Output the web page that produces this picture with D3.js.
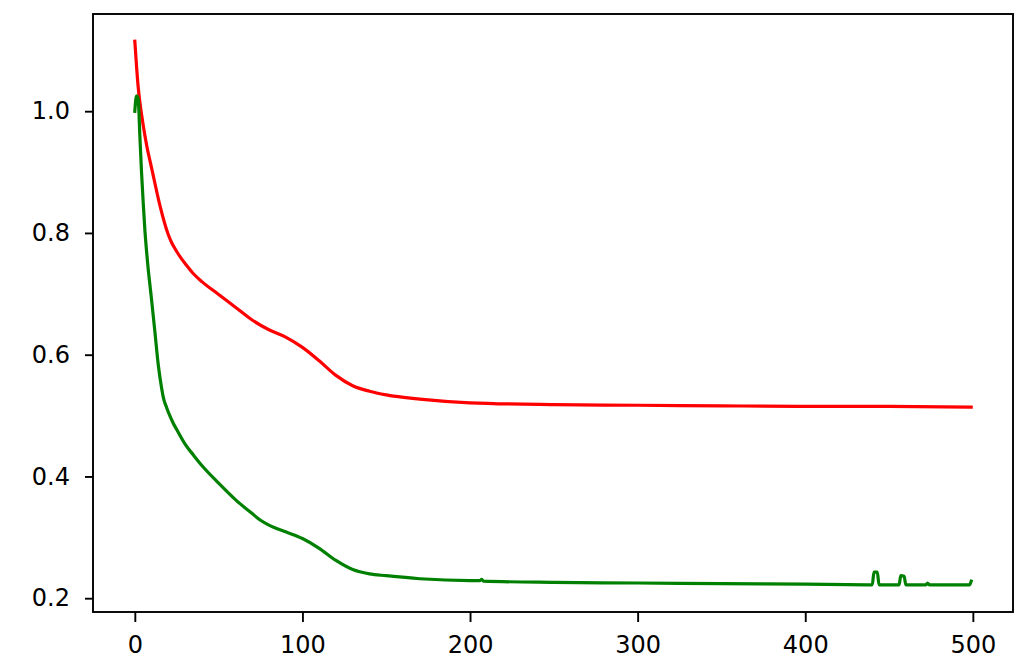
<!DOCTYPE html>
<html>
<head>
<meta charset="utf-8">
<script src="https://cdn.jsdelivr.net/npm/d3@7"></script>
<style>
  body { margin: 0; background: #fff; }
  svg text { font-family: 'DejaVu Sans', sans-serif; fill: #000; }
</style>
</head>
<body>
<div id="svg-container"></div>
<script>
// values
const redIter = [0, 1, 2, 3, 4, 5, 7, 10, 15, 20, 22, 24, 26, 28, 30, 35, 40, 50, 60, 70, 80, 90, 100, 110, 120, 130, 140, 150, 170, 200, 250, 300, 350, 400, 450, 499];
const redLoss = [1.115, 1.075, 1.04, 1.015, 0.995, 0.977, 0.945, 0.907, 0.845, 0.797, 0.784, 0.774, 0.765, 0.757, 0.75, 0.733, 0.72, 0.699, 0.678, 0.657, 0.641, 0.629, 0.612, 0.59, 0.566, 0.549, 0.54, 0.534, 0.527, 0.521, 0.518, 0.517, 0.516, 0.515, 0.515, 0.514];

const greenIter = [0, 1, 2, 3, 4, 5, 6, 7, 8, 9, 10, 12, 14, 16, 17, 19, 21, 23, 25, 30, 35, 40, 50, 60, 70, 75, 80, 90, 100, 110, 120, 130, 140, 150, 170, 200, 206, 207, 208, 250, 300, 350, 400, 440, 441, 443, 444, 456, 457, 459, 460, 472, 473, 474, 498, 499];
const greenLoss = [1.0, 1.025, 1.02, 0.96, 0.9, 0.85, 0.805, 0.77, 0.74, 0.715, 0.69, 0.637, 0.583, 0.545, 0.53, 0.513, 0.499, 0.487, 0.477, 0.453, 0.435, 0.418, 0.389, 0.362, 0.339, 0.328, 0.32, 0.309, 0.298, 0.282, 0.262, 0.247, 0.24, 0.237, 0.232, 0.229, 0.229, 0.231, 0.228, 0.226, 0.225, 0.224, 0.223, 0.222, 0.243, 0.243, 0.222, 0.222, 0.237, 0.236, 0.222, 0.222, 0.225, 0.222, 0.222, 0.228];

const xTicks = [0, 100, 200, 300, 400, 500];
const yTicks = [0.2, 0.4, 0.6, 0.8, 1.0];

const WIDTH = 1035;
const HEIGHT = 669;
const LEFT = 93;
const TOP = 14;
const RIGHT = 22;
const BOTTOM = 57;
const FONT = 24;

// matplotlib style 5% margins around the data
const padded = ([lo, hi]) => [lo - (hi - lo) * 0.05, hi + (hi - lo) * 0.05];

const xDomain = padded(d3.extent([...redIter, ...greenIter]));
const yDomain = padded(d3.extent([...redLoss, ...greenLoss]));

const x = d3.scaleLinear().domain(xDomain).range([LEFT, WIDTH - RIGHT]);
const y = d3.scaleLinear().domain(yDomain).range([HEIGHT - BOTTOM, TOP]);

const svg = d3
  .create('svg')
  .attr('width', WIDTH)
  .attr('height', HEIGHT);

const line = d3
  .line()
  .x((d) => x(d[0]))
  .y((d) => y(d[1]))
  .curve(d3.curveMonotoneX);

const plot = svg.append('g');

plot
  .append('path')
  .datum(redIter.map((it, i) => [it, redLoss[i]]))
  .attr('d', line)
  .attr('fill', 'none')
  .attr('stroke', '#ff0000')
  .attr('stroke-width', 3.2)
  .attr('stroke-linejoin', 'round')
  .attr('stroke-linecap', 'square');

plot
  .append('path')
  .datum(greenIter.map((it, i) => [it, greenLoss[i]]))
  .attr('d', line)
  .attr('fill', 'none')
  .attr('stroke', '#008000')
  .attr('stroke-width', 3.2)
  .attr('stroke-linejoin', 'round')
  .attr('stroke-linecap', 'square');

const xAxis = svg
  .append('g')
  .attr('transform', `translate(0, ${HEIGHT - BOTTOM})`)
  .call(
    d3.axisBottom(x).tickValues(xTicks).tickSize(10).tickPadding(14).tickFormat(d3.format('d'))
  );

const yAxis = svg
  .append('g')
  .attr('transform', `translate(${LEFT}, 0)`)
  .call(
    d3.axisLeft(y).tickValues(yTicks).tickSize(8).tickPadding(15).tickFormat(d3.format('.1f'))
  );

[xAxis, yAxis].forEach((axis) => {
  axis.select('.domain').remove();
  axis.selectAll('line').attr('stroke', '#000').attr('stroke-width', 1.9);
  axis.selectAll('text').style('font-size', `${FONT}px`).attr('fill', '#222');
});

// frame around the axes
svg
  .append('rect')
  .attr('x', LEFT)
  .attr('y', TOP)
  .attr('width', WIDTH - LEFT - RIGHT)
  .attr('height', HEIGHT - TOP - BOTTOM)
  .attr('fill', 'none')
  .attr('stroke', '#000')
  .attr('stroke-width', 1.9);

document.getElementById('svg-container').appendChild(svg.node());
</script>
</body>
</html>
